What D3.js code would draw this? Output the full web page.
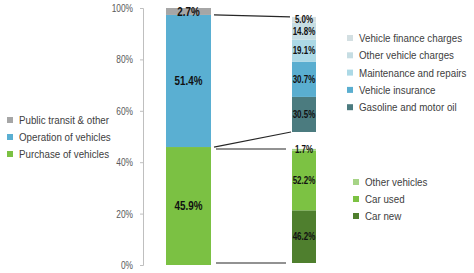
<!DOCTYPE html>
<html>
<head>
<meta charset="utf-8">
<script src="https://cdn.jsdelivr.net/npm/d3@7"></script>
<style>
  body { margin: 0; background: #fff; }
  svg { display: block; font-family: "Liberation Sans", Arial, sans-serif; }
</style>
</head>
<body>
<svg width="474" height="273"></svg>
<script>
(function (d3) {

  // main bar: share of transport spending
  const mainCats = ['Purchase of vehicles', 'Operation of vehicles', 'Public transit & other'];
  const mainVals = [45.9, 51.4, 2.7];
  const mainColors = ['#7bc143', '#5aafd2', '#a6a6a6'];

  // breakdown of operation of vehicles
  const opCats = ['Gasoline and motor oil', 'Vehicle insurance', 'Maintenance and repairs',
                  'Other vehicle charges', 'Vehicle finance charges'];
  const opVals = [30.5, 30.7, 19.1, 14.8, 5.0];
  const opColors = ['#4b7b7f', '#5aaed0', '#acd9e6', '#c6dde3', '#d3dfe2'];

  // breakdown of purchase of vehicles
  const purCats = ['Car new', 'Car used', 'Other vehicles'];
  const purVals = [46.2, 52.2, 1.7];
  const purColors = ['#4f7f2e', '#7cc243', '#a6d486'];

  const yTicks = [0, 20, 40, 60, 80, 100];

  const svg = d3.select('svg');

  // no narrow font installed, so squeeze text horizontally
  const narrow = (sel, x, y, sx) =>
    sel.attr('transform', (d, i) => `translate(${typeof x === 'function' ? x(d, i) : x},${typeof y === 'function' ? y(d, i) : y}) scale(${sx},1)`);

  const stack = vals => {
    let acc = 0;
    return vals.map(v => { const s = { y0: acc, y1: acc + v, v }; acc += v; return s; });
  };

  const yMain = d3.scaleLinear().domain([0, 100]).range([265, 8]);
  const yOp = d3.scaleLinear().domain([0, 100]).range([132, 17]);
  const yPur = d3.scaleLinear().domain([0, 100]).range([263, 149]);

  // axis
  const axisG = svg.append('g')
    .attr('transform', 'translate(143,0)')
    .call(d3.axisLeft(yMain).tickValues(yTicks).tickSize(3).tickPadding(7).tickFormat(d => d + '%'));
  axisG.select('.domain').attr('stroke', '#bfbfbf');
  axisG.selectAll('.tick line').attr('stroke', '#bfbfbf');
  axisG.selectAll('.tick text')
    .attr('fill', '#595959')
    .attr('x', null)
    .attr('transform', 'translate(-10,0) scale(0.76,1)')
    .style('font-size', '11px');

  const drawBar = (vals, colors, y, x, w, fontSize, sx) => {
    const segs = stack(vals);
    const g = svg.append('g');
    g.selectAll('rect').data(segs).enter().append('rect')
      .attr('x', x)
      .attr('width', w)
      .attr('y', d => y(d.y1))
      .attr('height', d => y(d.y0) - y(d.y1))
      .attr('fill', (d, i) => colors[i]);
    g.selectAll('text').data(segs).enter().append('text')
      .call(narrow, x + w / 2, d => (y(d.y0) + y(d.y1)) / 2, sx)
      .attr('dy', '0.35em')
      .attr('text-anchor', 'middle')
      .style('font-size', fontSize)
      .style('font-weight', 'bold')
      .attr('fill', '#111')
      .text(d => d.v.toFixed(1) + '%');
    return segs;
  };

  drawBar(mainVals, mainColors, yMain, 166, 45, '12px', 0.82);
  drawBar(opVals, opColors, yOp, 292, 24, '10px', 0.8);
  drawBar(purVals, purColors, yPur, 292, 24, '10px', 0.8);

  // connector lines
  const opTotal = d3.sum(opVals);
  const lines = [
    [214, yMain(100 - mainVals[2]), 290, yOp(opTotal)],
    [214, yMain(mainVals[0]), 291, yOp(0)],
    [216, yPur(100), 286, yPur(100)],
    [216, yPur(0), 286, yPur(0)]
  ];
  svg.selectAll('line.conn').data(lines).enter().append('line')
    .attr('class', 'conn')
    .attr('x1', d => d[0]).attr('y1', d => d[1])
    .attr('x2', d => d[2]).attr('y2', d => d[3])
    .attr('stroke', '#262626')
    .attr('stroke-width', 1.2);

  // legends
  const legend = (cats, colors, x, yTop, step) => {
    const items = cats.map((c, i) => ({ c, col: colors[i] })).reverse();
    const g = svg.append('g');
    const it = g.selectAll('g').data(items).enter().append('g')
      .attr('transform', (d, i) => `translate(${x},${yTop + i * step})`);
    it.append('rect')
      .attr('x', 0).attr('y', -3)
      .attr('width', 6).attr('height', 6)
      .attr('fill', d => d.col);
    it.append('text')
      .call(narrow, 12, 0, 0.85)
      .attr('dy', '0.35em')
      .style('font-size', '11.5px')
      .attr('fill', '#404040')
      .text(d => d.c);
  };

  legend(mainCats, mainColors, 7, 120, 17);
  legend(opCats, opColors, 347, 38, 17.3);
  legend(purCats, purColors, 353, 182, 17);

}(d3));
</script>
</body>
</html>
